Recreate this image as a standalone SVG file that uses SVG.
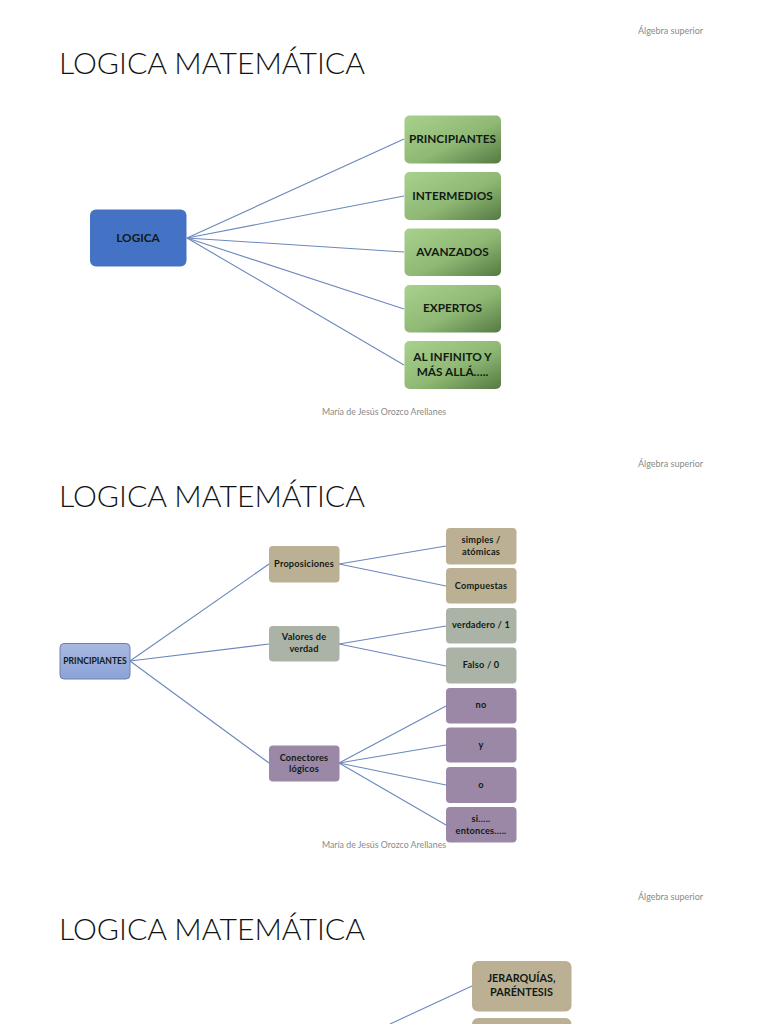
<svg xmlns="http://www.w3.org/2000/svg" width="768" height="1024" viewBox="0 0 768 1024">
<defs>
<linearGradient id="green" x1="0" y1="0" x2="1" y2="1"><stop offset="0" stop-color="#a9d18e"/><stop offset="0.55" stop-color="#8fb874"/><stop offset="1" stop-color="#557a43"/></linearGradient>
<linearGradient id="blue" x1="0" y1="0" x2="0" y2="1"><stop offset="0" stop-color="#a9b8e0"/><stop offset="1" stop-color="#8ba3d7"/></linearGradient>
</defs>
<style>
text{font-family:"Lato","Open Sans","Liberation Sans",sans-serif;text-anchor:middle;fill:#111a14}
.title{font-size:30.200px;font-weight:300;text-anchor:start;fill:#111}
.head{font-size:9px;fill:#8a8a8a;text-anchor:start}
.foot{font-size:8.800px;fill:#8a8a8a}
.l{font-size:11.800px;font-weight:700}
.m{font-size:9.200px;font-weight:700;letter-spacing:.2px}
.u{font-size:8.600px;font-weight:700}
.j{font-size:10.800px;font-weight:700}
.c line{stroke:#6b88bd;stroke-width:1.100}
.g{fill:url(#green)}
.t{fill:#bcb094}.s{fill:#abb3a6}.p{fill:#9a88a6}
</style>
<rect width="768" height="1024" fill="#fff"/>
<g id="page1-text">
<text class="head" x="638" y="34">Álgebra superior</text>
<text class="title" x="59" y="74">LOGICA MATEMÁTICA</text>
<text class="foot" x="384" y="415">María de Jesús Orozco Arellanes</text>
</g>
<g id="page2-text">
<text class="head" x="638" y="467">Álgebra superior</text>
<text class="title" x="59" y="507">LOGICA MATEMÁTICA</text>
<text class="foot" x="384" y="848">María de Jesús Orozco Arellanes</text>
</g>
<g id="page3-text">
<text class="head" x="638" y="900">Álgebra superior</text>
<text class="title" x="59" y="940">LOGICA MATEMÁTICA</text>
</g>
<g id="connectors" class="c">
<line x1="187" y1="238" x2="404" y2="139"/>
<line x1="187" y1="238" x2="404" y2="196"/>
<line x1="187" y1="238" x2="404" y2="252"/>
<line x1="187" y1="238" x2="404" y2="309"/>
<line x1="187" y1="238" x2="404" y2="365"/>
<line x1="130" y1="661" x2="269" y2="564"/>
<line x1="130" y1="661" x2="269" y2="644"/>
<line x1="130" y1="661" x2="269" y2="763"/>
<line x1="339" y1="564" x2="446" y2="546"/>
<line x1="339" y1="564" x2="446" y2="586"/>
<line x1="339" y1="644" x2="446" y2="626"/>
<line x1="339" y1="644" x2="446" y2="666"/>
<line x1="339" y1="763" x2="446" y2="706"/>
<line x1="339" y1="763" x2="446" y2="745"/>
<line x1="339" y1="763" x2="446" y2="785"/>
<line x1="339" y1="763" x2="446" y2="825"/>
<line x1="472" y1="986" x2="390" y2="1024"/>
</g>
<g id="logica"><rect x="90" y="209.500" width="96.500" height="57" rx="6" fill="#4472c4"/><text class="l" x="138" y="241.500">LOGICA</text></g>
<g id="principiantes"><rect class="g" x="404.500" y="115.500" width="96.500" height="48" rx="5"/><text class="l" x="452.500" y="143">PRINCIPIANTES</text></g>
<g id="intermedios"><rect class="g" x="404.500" y="172" width="96.500" height="48" rx="5"/><text class="l" x="452.500" y="199.500">INTERMEDIOS</text></g>
<g id="avanzados"><rect class="g" x="404.500" y="228.500" width="96.500" height="47.500" rx="5"/><text class="l" x="452.500" y="255.500">AVANZADOS</text></g>
<g id="expertos"><rect class="g" x="404.500" y="285" width="96.500" height="47.500" rx="5"/><text class="l" x="452.500" y="312">EXPERTOS</text></g>
<g id="infinito"><rect class="g" x="404.500" y="341" width="96.500" height="48" rx="5"/><text class="l" x="452.500" y="361">AL INFINITO Y</text><text class="l" x="452.500" y="376">MÁS ALLÁ…..</text></g>
<g id="principiantes2"><rect x="60" y="643.500" width="70" height="35.500" rx="4" fill="url(#blue)" stroke="#6f80a8"/><text class="u" x="95" y="664">PRINCIPIANTES</text></g>
<g id="proposiciones"><rect class="t" x="269" y="546" width="70.500" height="36.500" rx="4"/><text class="m" x="304" y="566.500">Proposiciones</text></g>
<g id="valores"><rect class="s" x="269" y="626" width="70.500" height="35.500" rx="4"/><text class="m" x="304" y="640">Valores de</text><text class="m" x="304" y="652">verdad</text></g>
<g id="conectores"><rect class="p" x="269" y="745.500" width="70.500" height="36" rx="4"/><text class="m" x="304" y="761">Conectores</text><text class="m" x="304" y="772">lógicos</text></g>
<g id="simples"><rect class="t" x="446" y="528" width="70.500" height="36.500" rx="4"/><text class="m" x="481" y="543">simples /</text><text class="m" x="481" y="555">atómicas</text></g>
<g id="compuestas"><rect class="t" x="446" y="568" width="70.500" height="35.500" rx="4"/><text class="m" x="481" y="589">Compuestas</text></g>
<g id="verdadero"><rect class="s" x="446" y="608" width="70.500" height="35.500" rx="4"/><text class="m" x="481" y="628">verdadero / 1</text></g>
<g id="falso"><rect class="s" x="446" y="647.500" width="70.500" height="36" rx="4"/><text class="m" x="481" y="668">Falso / 0</text></g>
<g id="no"><rect class="p" x="446" y="688" width="70.500" height="35.500" rx="4"/><text class="m" x="481" y="708">no</text></g>
<g id="y"><rect class="p" x="446" y="727.500" width="70.500" height="35" rx="4"/><text class="m" x="481" y="748">y</text></g>
<g id="o"><rect class="p" x="446" y="767" width="70.500" height="36" rx="4"/><text class="m" x="481" y="788">o</text></g>
<g id="si"><rect class="p" x="446" y="807" width="70.500" height="35.500" rx="4"/><text class="m" x="481" y="822">si…..</text><text class="m" x="481" y="834">entonces…..</text></g>
<g id="jerarquias"><rect class="t" x="472" y="961" width="99.500" height="50.500" rx="6"/><text class="j" x="521.500" y="982">JERARQUÍAS,</text><text class="j" x="521.500" y="996">PARÉNTESIS</text></g>
<g id="next"><rect class="t" x="472" y="1018" width="99.500" height="20" rx="6"/></g>
</svg>
